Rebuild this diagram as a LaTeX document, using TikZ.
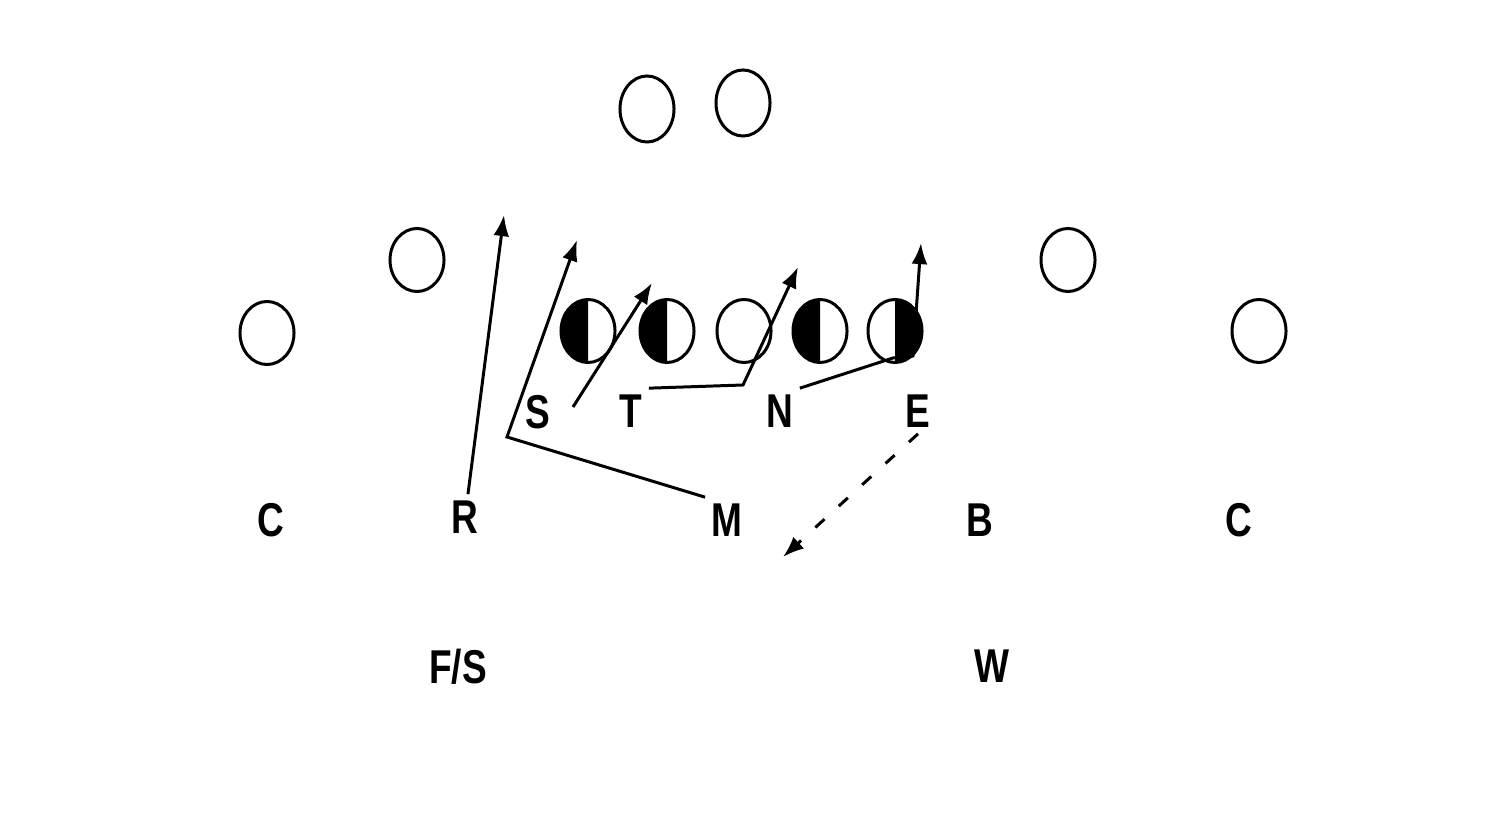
\documentclass[tikz,border=0pt]{standalone}
\usepackage{fontspec}
\newfontfamily\joueur[FakeStretch=0.78]{Liberation Sans}
\usetikzlibrary{shapes.geometric,arrows.meta}

\begin{document}
\begin{tikzpicture}[x=0.01cm, y=-0.01cm, line width=0.85pt,
  attaque/.style={ellipse, draw, inner sep=0pt, outer sep=0pt, minimum width=0.54cm, minimum height=0.63cm},
  defense/.style={inner sep=0.05cm, font=\joueur\bfseries\fontsize{13.5pt}{14pt}\selectfont},
  course/.style={-{Latex[length=6pt,width=4.5pt]}},
  lecture/.style={course, dash pattern=on 3.5pt off 5.5pt}]

\useasboundingbox (0,0) rectangle (1500,813);

% Attaque
\node[attaque, minimum height=0.66cm] (H1) at (647,109) {};
\node[attaque, minimum height=0.66cm] (H2) at (743,103) {};
\node[attaque] (Sg) at (417,260) {};
\node[attaque] (Sd) at (1068,260) {};
\node[attaque] (Wg) at (267,333) {};
\node[attaque] (Wd) at (1259,331) {};
\node[attaque] (L1) at (588,331) {};
\node[attaque] (L2) at (667,331) {};
\node[attaque] (L3) at (744,331) {};
\node[attaque] (L4) at (820,331) {};
\node[attaque] (L5) at (895,331) {};

% Demi-remplis
\fill (L1.south) arc[start angle=90, end angle=270, x radius=27, y radius=31.5] -- cycle;
\fill (L2.south) arc[start angle=90, end angle=270, x radius=27, y radius=31.5] -- cycle;
\fill (L4.south) arc[start angle=90, end angle=270, x radius=27, y radius=31.5] -- cycle;
\fill (L5.north) arc[start angle=270, end angle=450, x radius=27, y radius=31.5] -- cycle;

% Defense
\node[defense] (S) at (538,412) {S};
\node[defense] (T) at (631,411) {T};
\node[defense] (N) at (780,411) {N};
\node[defense] (E) at (918,411) {E};
\node[defense] (Cg) at (271,520) {C};
\node[defense] (R) at (465,517) {R};
\node[defense] (M) at (727,520) {M};
\node[defense] (B) at (980,520) {B};
\node[defense] (Cd) at (1239,520) {C};
\node[defense] (FS) at (458,667) {F/S};
\node[defense] (W) at (992,666) {W};

% Courses
\coordinate (r1) at (504,215);
\coordinate (m1) at (507,437);
\coordinate (m2) at (577,240);
\coordinate (s0) at (573,407);
\coordinate (s1) at (652,283);
\coordinate (t1) at (743,385);
\coordinate (t2) at (798,267);
\coordinate (n1) at (893,358);
\coordinate (n2) at (913,356);
\coordinate (n3) at (921,243);
\coordinate (e1) at (783,557);

\draw[course] (R) -- (r1);
\draw[course] (M.north west) -- (m1) -- (m2);
\draw[course] (s0) -- (s1);
\draw[course] (T.north east) -- (t1) -- (t2);
\draw[course] (N.north east) -- (n1) -- (n2) -- (n3);
\draw[lecture] (E.south) -- (e1);

\end{tikzpicture}
\end{document}
